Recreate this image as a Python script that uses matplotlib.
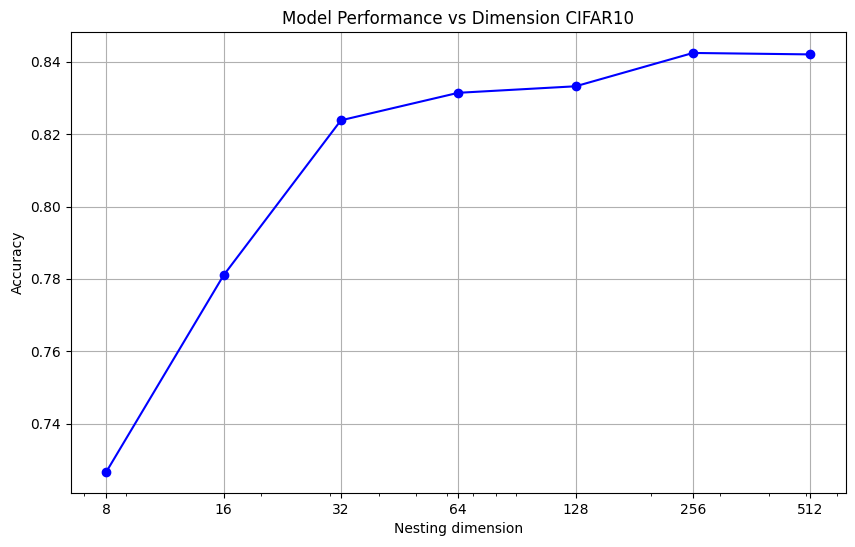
import matplotlib
matplotlib.use('Agg')
from matplotlib import pyplot as plt

dims = [8, 16, 32, 64, 128, 256, 512]
accuracy = [0.7267, 0.7810, 0.8238, 0.8314, 0.8332, 0.8424, 0.8420]

fig = plt.figure(figsize=(8.55, 5.47), dpi=100)
ax = fig.add_axes([0.083, 0.0987, 0.906, 0.8428])

ax.plot(dims, accuracy, marker='o', color='b', linestyle='-')
ax.set_xscale('log')
ax.set_xticks(dims)
ax.set_xticklabels([str(d) for d in dims])

ax.set_title('Model Performance vs Dimension CIFAR10')
ax.set_xlabel('Nesting dimension')
ax.set_ylabel('Accuracy')
ax.grid(True)

fig.savefig('out.png', dpi=100)
